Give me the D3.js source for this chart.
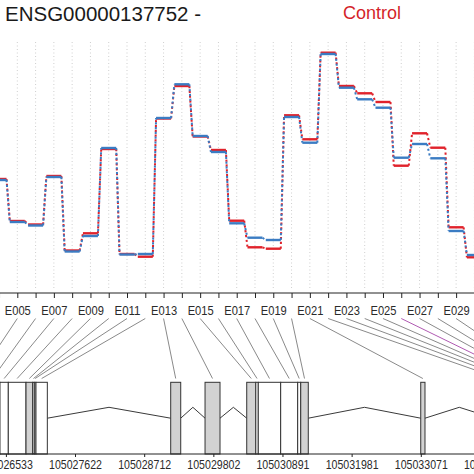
<!DOCTYPE html>
<html>
<head>
<meta charset="utf-8">
<script src="https://cdn.jsdelivr.net/npm/d3@7"></script>
<style>
  html, body { margin: 0; padding: 0; background: #fff; }
  svg { display: block; font-family: "Liberation Sans", Arial, sans-serif; }
</style>
</head>
<body>
<svg id="chart" width="474" height="474"></svg>
<script>
// ---------------- data ----------------
const geneId = "ENSG00000137752";
const strand = "-";
const legendLabel = "Control";

const exonIds = ["E004","E005","E006","E007","E008","E009","E010","E011","E012","E013",
  "E014","E015","E016","E017","E018","E019","E020","E021","E022","E023",
  "E024","E025","E026","E027","E028","E029","E030"];
const labelledExons = ["E005","E007","E009","E011","E013","E015","E017","E019","E021",
  "E023","E025","E027","E029"];

// relative exon usage (arbitrary units) – control (red) and second condition (blue)
const controlUsage = [114, 72, 68.5, 117, 42.5, 59.7, 144, 39, 36.3, 174.5,
  207, 156.5, 143, 72.3, 45.7, 44.3, 177.7, 153.7, 240.3, 207,
  199.7, 191, 127.3, 159.7, 145.3, 65.7, 35.7];
const treatedUsage = [113, 71, 67.5, 116, 41.5, 57, 145, 38.5, 39, 175,
  208.7, 157, 141, 69.7, 55.3, 53, 176, 150.3, 239, 205.3,
  193.7, 185.3, 135.3, 149, 134.7, 62, 38];

// genomic coordinates of exonic parts
const exonStart = [105025652, 105025967, 105026204, 105026440, 105026571, 105026850, 105026955, 105026981, 105027007, 105029130,
  105029671, 105030328, 105030471, 105030510, 105030863, 105031131, 105031179, 105033070, 105034218, 105034398,
  105034508, 105034603, 105034666, 105034729, 105034824, 105034950, 105035107];
const exonEnd = [105025967, 105026204, 105026440, 105026571, 105026850, 105026955, 105026981, 105027007, 105027186, 105029288,
  105029907, 105030471, 105030510, 105030863, 105031131, 105031179, 105031298, 105033137, 105034398, 105034508,
  105034603, 105034666, 105034729, 105034824, 105034950, 105035107, 105035265];
const exonShaded = [false, false, false, false, false, true, false, false, false, true,
  true, true, false, false, false, false, true, true, false, false,
  false, false, false, false, false, false, false];
const exonSignificant = exonIds.map(id => id === "E026");

const genomicTicks = [105026533, 105027622, 105028712, 105029802, 105030891, 105031981, 105033071, 105034160];

// ---------------- layout ----------------
const svg = d3.select("#chart");
const W = 474;
const plotTop = 42, plotBottom = 290, axisY = 293;
const connTop = 318.5, connBottom = 378.5;
const geneTop = 382.3, geneBottom = 454, geneMid = 418.2, intronPeak = 407.3;

const colCtrl = "#e0222b", colTreat = "#3b7cc3";

const x = d3.scalePoint().domain(exonIds).range([-0.98, 474.4]);
const hw = x.step() * 0.41;
const y = d3.scaleLinear().domain([0, 250]).range([axisY, 43]);
const xg = d3.scaleLinear().domain([105027622, 105033071]).range([75, 420.8]);

// title + legend
svg.append("text").attr("x", 5).attr("y", 20.7)
  .attr("font-size", 20.5).attr("fill", "#1a1a1a")
  .text(`${geneId} ${strand}`);
svg.append("text").attr("x", 343).attr("y", 18.5)
  .attr("font-size", 18).attr("fill", "#d41f2a")
  .text(legendLabel);

// dotted grid
svg.append("g").selectAll("line").data(exonIds).join("line")
  .attr("x1", d => x(d)).attr("x2", d => x(d))
  .attr("y1", plotTop).attr("y2", plotBottom)
  .attr("stroke", "#cfcfcf").attr("stroke-width", 1)
  .attr("stroke-dasharray", "1,2.5");

// expression step lines
function drawSeries(vals, color) {
  const g = svg.append("g");
  const pts = exonIds.map((id, i) => ({ id, v: vals[i] }));
  g.selectAll("line.seg").data(pts).join("line").attr("class", "seg")
    .attr("x1", d => x(d.id) - hw).attr("x2", d => x(d.id) + hw)
    .attr("y1", d => y(d.v)).attr("y2", d => y(d.v))
    .attr("stroke", color).attr("stroke-width", 2.4);
  const links = d3.pairs(pts);
  g.selectAll("line.lnk").data(links).join("line").attr("class", "lnk")
    .attr("x1", d => x(d[0].id) + hw).attr("y1", d => y(d[0].v))
    .attr("x2", d => x(d[1].id) - hw).attr("y2", d => y(d[1].v))
    .attr("stroke", color).attr("stroke-width", 2)
    .attr("stroke-dasharray", "2.2,2.6");
}
drawSeries(controlUsage, colCtrl);
drawSeries(treatedUsage, colTreat);

// exon axis
const xAxis = d3.axisBottom(x).tickSize(5).tickSizeOuter(0)
  .tickFormat(d => labelledExons.includes(d) ? d : "");
const ax = svg.append("g").attr("transform", `translate(0,${axisY})`).call(xAxis);
ax.select(".domain").attr("stroke", "#222").attr("d", `M0,0H${W}`);
ax.selectAll(".tick line").attr("stroke", "#222");
ax.selectAll(".tick text")
  .attr("y", 22).attr("dy", 0)
  .attr("font-size", 13.5).attr("fill", "#2a2a2a")
  .attr("font-family", "'Liberation Sans', Arial, sans-serif")
  .each(function(d) {
    if (labelledExons.includes(d)) {
      d3.select(this).attr("textLength", 26).attr("lengthAdjust", "spacingAndGlyphs");
    }
  });

// connectors from exon index to genomic position
svg.append("g").selectAll("line").data(exonIds).join("line")
  .attr("x1", d => x(d)).attr("y1", connTop)
  .attr("x2", (d, i) => xg((exonStart[i] + exonEnd[i]) / 2)).attr("y2", connBottom)
  .attr("stroke", (d, i) => exonSignificant[i] ? "#b05ab2" : "#8a8a8a")
  .attr("stroke-width", 1);

// introns
const exonObjs = exonIds.map((id, i) => ({ id, s: exonStart[i], e: exonEnd[i], shaded: exonShaded[i], sig: exonSignificant[i] }));
const introns = d3.pairs(exonObjs).filter(([a, b]) => b.s > a.e);
svg.append("g").selectAll("polyline").data(introns).join("polyline")
  .attr("points", ([a, b]) => {
    const x0 = xg(a.e), x1 = xg(b.s);
    return `${x0},${geneMid} ${(x0 + x1) / 2},${intronPeak} ${x1},${geneMid}`;
  })
  .attr("fill", "none").attr("stroke", "#3a3a3a").attr("stroke-width", 1);

// exon rectangles
svg.append("g").selectAll("rect").data(exonObjs).join("rect")
  .attr("x", d => xg(d.s)).attr("width", d => xg(d.e) - xg(d.s))
  .attr("y", geneTop).attr("height", geneBottom - geneTop)
  .attr("fill", d => d.sig ? "#f219ed" : (d.shaded ? "#d2d2d2" : "#ffffff"))
  .attr("stroke", "#333").attr("stroke-width", 1);

// genomic axis
const gAxis = d3.axisBottom(xg).tickValues(genomicTicks).tickSize(3).tickSizeOuter(0)
  .tickFormat(d3.format("d"));
const gx = svg.append("g").attr("transform", `translate(0,${geneBottom})`).call(gAxis);
gx.select(".domain").attr("stroke", "#222").attr("d", `M0,0H${W}`);
gx.selectAll(".tick line").attr("stroke", "#222");
gx.selectAll(".tick text")
  .attr("y", 15).attr("dy", 0)
  .attr("font-size", 13.5).attr("fill", "#2a2a2a")
  .attr("font-family", "'Liberation Sans', Arial, sans-serif")
  .attr("textLength", 53).attr("lengthAdjust", "spacingAndGlyphs");
</script>
</body>
</html>
